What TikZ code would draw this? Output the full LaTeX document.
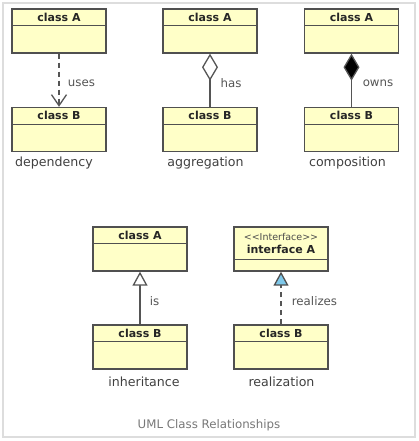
\documentclass[tikz,border=0pt]{standalone}
\usepackage{fontspec}
\setmainfont{DejaVu Sans}
\usetikzlibrary{arrows.meta}
\definecolor{boxfill}{HTML}{FFFFC8}
\definecolor{boxline}{HTML}{505050}
\definecolor{linkline}{HTML}{555555}
\definecolor{labtext}{HTML}{555555}
\definecolor{captext}{HTML}{777777}
\definecolor{frameline}{HTML}{DDDDDD}
\definecolor{realfill}{HTML}{7EC8EA}
\tikzset{
  clsbox/.style={draw=boxline, fill=boxfill, line width=1.4pt, minimum width=94pt, minimum height=44pt, inner sep=0pt},
  clstitle/.style={minimum width=94pt, minimum height=17pt, inner sep=0pt, font=\fontsize{11}{13}\selectfont\bfseries, text=black!85},
  septext/.style={draw=boxline, line width=1.2pt},
  linklab/.style={font=\fontsize{11.8}{13}\selectfont, text=labtext},
  kindlab/.style={font=\fontsize{12.6}{14}\selectfont, text=black!75},
  conn/.style={draw=linkline, line width=1.3pt},
  dashconn/.style={conn, dash pattern=on 5pt off 4pt},
}
\begin{document}
\begin{tikzpicture}[x=1pt,y=-1pt]
\useasboundingbox (0,0) rectangle (418,441);
\draw[frameline, line width=1.5pt] (3,3) rectangle (415,437);

% row 1
\foreach \nm/\cx in {1/59, 2/210, 3/351.5}{
  \node[clsbox] (a\nm) at (\cx,31) {};
  \node[clstitle, anchor=north] (a\nm t) at (a\nm.north) {class A};
  \draw[septext] (a\nm t.south west) -- (a\nm t.south east);
  \node[clsbox] (b\nm) at (\cx,129.5) {};
  \node[clstitle, anchor=north] (b\nm t) at (b\nm.north) {class B};
  \draw[septext] (b\nm t.south west) -- (b\nm t.south east);
}

% row 2
\node[clsbox] (a4) at (140,249) {};
\node[clstitle, anchor=north] (a4t) at (a4.north) {class A};
\draw[septext] (a4t.south west) -- (a4t.south east);
\node[clsbox] (b4) at (140,347) {};
\node[clstitle, anchor=north] (b4t) at (b4.north) {class B};
\draw[septext] (b4t.south west) -- (b4t.south east);

\node[clsbox] (a5) at (281,249) {};
\node[minimum width=94pt, minimum height=33pt, inner sep=0pt, anchor=north, align=center] (a5t) at (a5.north)
  {{\fontsize{9.5}{12}\selectfont\color{black!70}{<}{<}Interface{>}{>}}\\[1pt]{\fontsize{11}{13}\selectfont\bfseries\color{black!85}interface A}};
\draw[septext] (a5t.south west) -- (a5t.south east);
\node[clsbox] (b5) at (281,347) {};
\node[clstitle, anchor=north] (b5t) at (b5.north) {class B};
\draw[septext] (b5t.south west) -- (b5t.south east);

% connectors
\draw[dashconn, -{Straight Barb[length=11pt, width=15pt, line width=1.3pt]}] (a1.south) -- (b1.north);
\draw[conn, -{Diamond[open, length=27pt, width=16pt, line width=1.3pt, fill=white]}] (b2.north) -- (a2.south);
\draw[conn, -{Diamond[length=27pt, width=16pt, fill=black]}] (b3.north) -- (a3.south);
\draw[conn, -{Triangle[open, length=14pt, width=15pt, line width=1.3pt, fill=white]}] (b4.north) -- (a4.south);
\draw[dashconn, -{Triangle[length=14pt, width=15pt, line width=1.3pt, color=boxline, fill=realfill]}] (b5.north) -- (a5.south);

% connector labels
\node[linklab] (l1) at (81.5,83) {uses};
\node[linklab] (l2) at (231,83) {has};
\node[linklab] (l3) at (378,83) {owns};
\node[linklab] (l4) at (154.5,301) {is};
\node[linklab] (l5) at (314.5,301) {realizes};

% kind labels
\node[kindlab] (k1) at (54,163) {dependency};
\node[kindlab] (k2) at (205.5,163) {aggregation};
\node[kindlab] (k3) at (347.5,163) {composition};
\node[kindlab] (k4) at (144,382) {inheritance};
\node[kindlab] (k5) at (281.5,382) {realization};

\node[font=\fontsize{11.8}{14}\selectfont, text=captext] (cap) at (209,425) {UML Class Relationships};
\end{tikzpicture}
\end{document}
